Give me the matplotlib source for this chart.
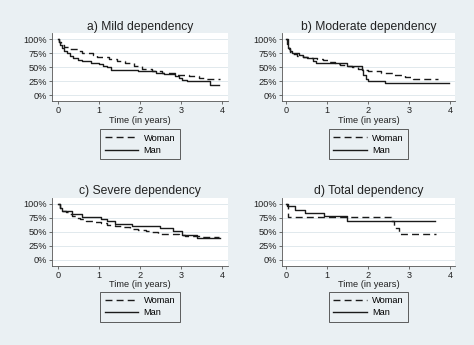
import matplotlib
matplotlib.use('Agg')
import matplotlib.pyplot as plt

plt.rcParams['font.family'] = ['Liberation Sans', 'DejaVu Sans']

# Kaplan-Meier curves: step times (years) and survival after each step
mild_woman_t = [0, 0.03, 0.07, 0.15, 0.3, 0.5, 0.6, 0.85, 0.95, 1.25, 1.45, 1.65, 1.85, 2.05, 2.3, 2.55, 2.85, 3.2, 3.45, 3.6, 3.96]
mild_woman_s = [1.0, 0.95, 0.9, 0.87, 0.83, 0.8, 0.75, 0.73, 0.68, 0.65, 0.62, 0.58, 0.53, 0.48, 0.44, 0.4, 0.37, 0.34, 0.31, 0.3, 0.3]
mild_man_t = [0, 0.02, 0.05, 0.1, 0.15, 0.22, 0.3, 0.38, 0.5, 0.6, 0.8, 1.0, 1.1, 1.2, 1.3, 1.95, 2.4, 2.6, 2.85, 2.95, 3.02, 3.15, 3.72, 3.92]
mild_man_s = [1.0, 0.95, 0.9, 0.84, 0.8, 0.75, 0.7, 0.66, 0.63, 0.61, 0.58, 0.56, 0.53, 0.5, 0.46, 0.43, 0.4, 0.38, 0.35, 0.31, 0.28, 0.26, 0.19, 0.19]

mod_woman_t = [0, 0.03, 0.06, 0.1, 0.15, 0.25, 0.4, 0.55, 0.75, 0.9, 1.05, 1.2, 1.3, 1.45, 1.6, 1.75, 1.9, 2.0, 2.3, 2.6, 2.9, 3.1, 3.7]
mod_woman_s = [1.0, 0.9, 0.83, 0.78, 0.74, 0.71, 0.69, 0.67, 0.65, 0.63, 0.6, 0.57, 0.55, 0.52, 0.5, 0.48, 0.45, 0.43, 0.4, 0.37, 0.33, 0.29, 0.29]
mod_man_t = [0, 0.02, 0.05, 0.1, 0.15, 0.3, 0.4, 0.5, 0.65, 0.72, 1.48, 1.85, 1.88, 1.95, 2.0, 2.4, 3.96]
mod_man_s = [1.0, 0.92, 0.85, 0.8, 0.76, 0.72, 0.69, 0.66, 0.62, 0.58, 0.53, 0.45, 0.37, 0.3, 0.26, 0.22, 0.22]

sev_woman_t = [0, 0.05, 0.1, 0.2, 0.28, 0.35, 0.45, 0.55, 0.7, 0.85, 1.05, 1.2, 1.4, 1.6, 1.75, 1.95, 2.15, 2.3, 2.45, 2.75, 2.95, 3.1, 3.5, 3.92]
sev_woman_s = [1.0, 0.93, 0.88, 0.85, 0.82, 0.78, 0.75, 0.73, 0.7, 0.68, 0.66, 0.63, 0.61, 0.59, 0.56, 0.54, 0.52, 0.49, 0.47, 0.46, 0.44, 0.43, 0.41, 0.41]
sev_man_t = [0, 0.05, 0.1, 0.35, 0.6, 1.05, 1.2, 1.4, 1.8, 2.5, 2.8, 3.03, 3.4, 3.95]
sev_man_s = [1.0, 0.92, 0.87, 0.82, 0.77, 0.73, 0.69, 0.65, 0.61, 0.565, 0.51, 0.44, 0.4, 0.4]

tot_woman_t = [0, 0.04, 2.55, 2.62, 2.74, 3.65]
tot_woman_s = [1.0, 0.77, 0.69, 0.57, 0.46, 0.46]
tot_man_t = [0, 0.01, 0.22, 0.46, 0.93, 1.48, 3.62]
tot_man_s = [1.0, 0.96, 0.9, 0.83, 0.78, 0.7, 0.7]

titles = ['a) Mild dependency', 'b) Moderate dependency', 'c) Severe dependency', 'd) Total dependency']
groups = ['Woman', 'Man']
yticks = [0, 0.25, 0.5, 0.75, 1.0]
ytick_labels = ['0%', '25%', '50%', '75%', '100%']
xticks = [0, 1, 2, 3, 4]

curves = [
    [(mild_woman_t, mild_woman_s), (mild_man_t, mild_man_s)],
    [(mod_woman_t, mod_woman_s), (mod_man_t, mod_man_s)],
    [(sev_woman_t, sev_woman_s), (sev_man_t, sev_man_s)],
    [(tot_woman_t, tot_woman_s), (tot_man_t, tot_man_s)],
]

bg = '#eaf0f3'
W, H = 474, 345
fig = plt.figure(figsize=(W / 100, H / 100), dpi=100, facecolor=bg)

# plot regions in pixels (left, top, right, bottom) and x-limits / legend offsets
boxes = [(52, 33, 228, 101), (282, 33, 455, 101), (52, 197.5, 228, 265.5), (282, 197.5, 455, 265.5)]
xlims = [(-0.14, 4.15), (-0.105, 4.115), (-0.14, 4.15), (-0.105, 4.115)]
leg_y = [-0.35, -0.35, -0.32, -0.32]
styles = [dict(ls=(0, (5, 3))), dict(ls='-')]

for i, ax_box in enumerate(boxes):
    l, t, r, b = ax_box
    ax = fig.add_axes([l / W, 1 - b / H, (r - l) / W, (b - t) / H])
    ax.set_facecolor('white')
    for (tt, ss), st, name in zip(curves[i], styles, groups):
        ax.step(tt, ss, where='post', color='#1a1a1a', lw=1.0, label=name, **st)
    ax.set_xlim(*xlims[i])
    ax.set_ylim(-0.1, 1.115)
    ax.set_yticks(yticks)
    ax.set_yticklabels(ytick_labels)
    ax.set_xticks(xticks)
    ax.grid(axis='y', color='#e1e9ed', lw=0.7)
    ax.set_axisbelow(True)
    for side in ['top', 'right']:
        ax.spines[side].set_visible(False)
    for side in ['left', 'bottom']:
        ax.spines[side].set_color('#555555')
        ax.spines[side].set_linewidth(0.6)
    ax.tick_params(length=2.2, width=0.6, color='#555555', labelsize=6.6, labelcolor='#222222', pad=1.5)
    ax.set_xlabel('Time (in years)', fontsize=6.7, labelpad=0.5, color='#222222')
    ax.set_title(titles[i], fontsize=8.7, pad=2.5, color='#222222')
    leg = ax.legend(loc='upper center', bbox_to_anchor=(0.5, leg_y[i]), fontsize=6.7,
                    handlelength=3.6, handletextpad=0.6, borderpad=0.45, labelspacing=0.35,
                    fancybox=False, framealpha=1, facecolor=bg, edgecolor='#444444')
    leg.get_frame().set_linewidth(0.6)

fig.savefig('out.png', dpi=100, facecolor=bg)
